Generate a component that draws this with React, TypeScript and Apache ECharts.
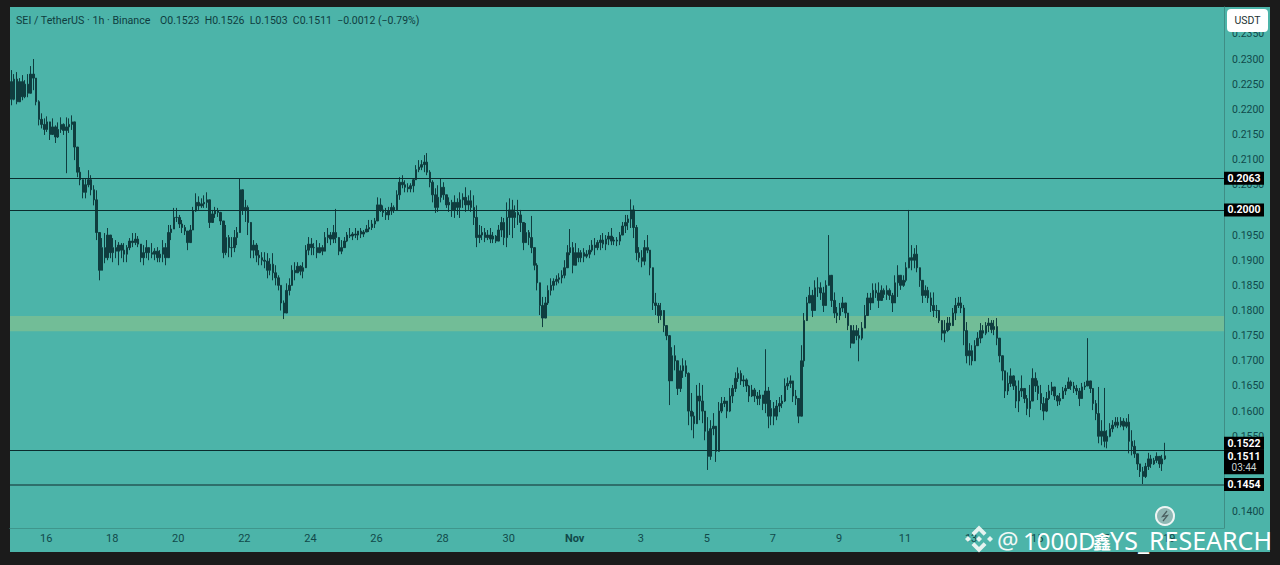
import React, { useEffect, useRef } from "react";
import * as echarts from "echarts";

const highs = [
  2278,2270,2274,2262,2268,2258,2270,2286,2300,2258,
  2218,2192,2182,2186,2172,2182,2168,2174,2184,2172,
  2184,2182,2188,2168,2119,2085,2059,2063,2079,2069,
  2049,2039,1950,1944,1954,1964,1940,1944,1940,1936,
  1934,1934,1930,1944,1954,1954,1948,1930,1930,1940,
  1926,1934,1924,1926,1920,1940,1934,1970,1970,2004,
  2004,1990,1980,1970,1954,1970,2006,2033,2027,2023,
  2029,2035,2004,2000,2006,2004,1996,1966,1970,1950,
  1946,1960,1966,2063,2029,2020,2009,1970,1940,1934,
  1920,1916,1916,1914,1904,1914,1890,1870,1850,1820,
  1854,1864,1890,1896,1896,1890,1896,1930,1946,1944,
  1934,1940,1934,1930,1956,1964,1956,1970,2002,1940,
  1940,1946,1956,1964,1956,1964,1956,1964,1960,1970,
  1980,1980,1984,2025,2023,2009,2004,2006,2014,2009,
  2039,2065,2069,2059,2053,2053,2063,2089,2099,2099,
  2109,2113,2079,2059,2043,2049,2063,2055,2029,2025,
  2020,2029,2023,2035,2033,2045,2029,2039,2029,2009,
  1970,1968,1964,1960,1964,1956,1950,1970,1986,1984,
  2015,2023,2020,2009,2020,2000,1974,1974,1960,1988,
  1920,1894,1850,1827,1827,1850,1864,1864,1870,1874,
  1880,1900,1930,1962,1936,1934,1924,1920,1924,1920,
  1930,1940,1944,1940,1950,1954,1950,1956,1964,1946,
  1946,1956,1976,1990,1990,2021,2009,1970,1926,1920,
  1940,1950,1910,1874,1835,1815,1815,1795,1771,1751,
  1727,1731,1695,1691,1705,1701,1677,1636,1598,1652,
  1656,1652,1598,1588,1582,1596,1568,1618,1628,1628,
  1612,1646,1652,1677,1687,1681,1671,1665,1652,1652,
  1646,1638,1642,1632,1723,1648,1622,1618,1622,1628,
  1632,1665,1667,1671,1658,1642,1622,1731,1795,1827,
  1847,1841,1860,1866,1856,1847,1860,1950,1860,1836,
  1807,1815,1827,1807,1787,1751,1771,1771,1765,1777,
  1811,1835,1835,1854,1854,1856,1850,1844,1850,1844,
  1835,1870,1890,1870,1870,1896,2000,1930,1924,1930,
  1880,1847,1850,1847,1836,1836,1811,1795,1775,1781,
  1787,1787,1805,1825,1827,1827,1811,1777,1735,1731,
  1741,1757,1775,1771,1777,1785,1781,1781,1785,1731,
  1701,1677,1677,1685,1671,1661,1661,1671,1636,1632,
  1652,1685,1677,1661,1652,1628,1638,1652,1658,1646,
  1632,1636,1648,1652,1667,1661,1658,1652,1646,1656,
  1658,1745,1658,1636,1622,1648,1582,1646,1562,1576,
  1582,1588,1588,1588,1586,1586,1594,1562,1542,1507,
  1493,1489,1497,1517,1513,1507,1518,1509,1513,1537,
];

const lows = [
  2208,2218,2210,2226,2218,2222,2224,2234,2238,2208,
  2168,2162,2149,2155,2139,2149,2133,2143,2153,2149,
  2073,2153,2159,2099,2065,2049,2023,2023,2045,2029,
  2009,1940,1860,1880,1894,1900,1904,1896,1904,1890,
  1904,1896,1896,1920,1926,1930,1926,1896,1890,1904,
  1900,1904,1900,1896,1896,1896,1890,1926,1940,1970,
  1976,1964,1954,1950,1920,1940,1964,1996,2000,2004,
  2004,2004,1964,1976,1984,1986,1970,1904,1910,1906,
  1906,1916,1930,1986,1990,1976,1950,1904,1904,1896,
  1890,1890,1884,1864,1870,1860,1850,1840,1800,1783,
  1815,1830,1854,1860,1876,1870,1864,1896,1910,1910,
  1910,1904,1914,1910,1920,1934,1930,1934,1934,1910,
  1912,1926,1936,1944,1940,1944,1940,1944,1946,1956,
  1956,1960,1964,1984,1996,1986,1980,1980,1990,1994,
  2006,2020,2043,2035,2035,2035,2035,2065,2075,2079,
  2075,2069,2045,2015,1994,1996,2015,2020,2004,1996,
  1986,1984,1990,1984,2004,1996,2000,1996,1970,1926,
  1934,1940,1936,1940,1934,1934,1934,1944,1946,1930,
  1926,1950,1944,1964,1970,1956,1920,1944,1930,1914,
  1880,1840,1791,1767,1801,1811,1830,1840,1850,1854,
  1854,1864,1890,1910,1874,1890,1896,1896,1896,1904,
  1904,1916,1910,1920,1920,1924,1920,1930,1930,1930,
  1928,1930,1950,1954,1960,1964,1944,1900,1896,1886,
  1890,1914,1870,1801,1791,1775,1781,1757,1741,1612,
  1685,1681,1632,1638,1666,1668,1572,1562,1546,1588,
  1582,1576,1542,1483,1503,1552,1499,1562,1596,1608,
  1586,1598,1616,1638,1658,1652,1648,1638,1618,1628,
  1618,1612,1612,1602,1596,1566,1572,1572,1582,1598,
  1606,1618,1642,1646,1618,1612,1576,1632,1688,1791,
  1815,1787,1821,1827,1821,1797,1827,1854,1807,1785,
  1775,1781,1797,1785,1761,1725,1735,1741,1699,1741,
  1765,1797,1801,1817,1825,1805,1821,1825,1821,1821,
  1797,1836,1827,1841,1847,1856,1884,1880,1884,1876,
  1847,1815,1825,1815,1797,1787,1785,1775,1741,1737,
  1757,1761,1777,1781,1805,1795,1731,1695,1691,1691,
  1717,1731,1735,1745,1751,1757,1755,1751,1731,1697,
  1661,1626,1632,1648,1642,1606,1598,1628,1616,1592,
  1588,1628,1638,1622,1602,1582,1598,1622,1632,1622,
  1610,1612,1628,1632,1646,1642,1636,1632,1610,1632,
  1642,1652,1636,1602,1582,1536,1532,1528,1526,1548,
  1558,1568,1566,1568,1562,1566,1516,1512,1507,1483,
  1469,1453,1467,1483,1487,1493,1497,1487,1481,1503,
];

const closes = [
  2220,2260,2215,2255,2225,2250,2232,2270,2262,2215,
  2180,2170,2160,2175,2150,2165,2145,2160,2170,2158,
  2165,2170,2175,2125,2075,2060,2035,2050,2060,2040,
  2020,1955,1880,1925,1905,1950,1915,1925,1918,1930,
  1920,1912,1925,1938,1935,1942,1932,1905,1915,1925,
  1915,1912,1918,1905,1912,1925,1905,1955,1962,1985,
  1985,1972,1965,1958,1935,1960,1998,2015,2008,2012,
  2015,2020,1975,1992,1998,1995,1978,1915,1945,1925,
  1925,1945,1955,2040,2000,2005,1975,1920,1930,1910,
  1905,1900,1898,1880,1892,1875,1865,1850,1815,1795,
  1840,1850,1880,1875,1888,1878,1885,1920,1932,1925,
  1925,1915,1925,1918,1945,1950,1942,1955,1945,1918,
  1925,1938,1950,1948,1952,1950,1958,1952,1956,1962,
  1965,1972,1978,2010,2000,1995,1990,1998,2005,2000,
  2030,2055,2050,2045,2042,2048,2060,2080,2085,2090,
  2095,2075,2055,2030,2005,2025,2045,2030,2010,2015,
  2000,2015,2005,2020,2025,2010,2018,2005,1985,1945,
  1950,1955,1945,1950,1942,1948,1938,1960,1975,1945,
  1985,2000,1985,1995,1990,1975,1935,1955,1945,1925,
  1890,1855,1810,1785,1815,1840,1850,1858,1862,1865,
  1870,1885,1915,1925,1890,1915,1905,1915,1908,1912,
  1920,1930,1925,1935,1940,1932,1942,1948,1938,1940,
  1938,1950,1968,1975,1982,2000,1965,1915,1905,1898,
  1925,1920,1885,1815,1810,1790,1800,1770,1750,1660,
  1710,1700,1645,1680,1690,1675,1600,1590,1575,1630,
  1620,1600,1560,1510,1565,1570,1520,1600,1615,1620,
  1600,1630,1645,1665,1675,1660,1662,1650,1630,1642,
  1630,1625,1632,1615,1640,1590,1605,1590,1610,1615,
  1620,1650,1655,1660,1630,1625,1590,1700,1780,1815,
  1830,1800,1845,1845,1835,1810,1850,1870,1820,1795,
  1790,1805,1815,1795,1770,1735,1760,1750,1745,1765,
  1790,1825,1815,1840,1835,1820,1840,1832,1840,1830,
  1815,1855,1870,1850,1860,1885,1905,1900,1912,1885,
  1860,1830,1840,1825,1810,1800,1800,1780,1755,1760,
  1775,1770,1795,1810,1815,1805,1760,1710,1720,1700,
  1730,1745,1760,1755,1770,1775,1762,1768,1745,1710,
  1680,1640,1655,1670,1650,1620,1640,1645,1625,1605,
  1620,1665,1650,1635,1615,1600,1625,1640,1648,1630,
  1620,1625,1640,1645,1658,1650,1645,1640,1625,1648,
  1650,1660,1645,1615,1595,1550,1560,1540,1550,1565,
  1572,1578,1572,1580,1570,1578,1540,1530,1515,1495,
  1480,1470,1490,1505,1495,1502,1510,1495,1505,1511,
];

const priceTicks = [0.14,0.145,0.15,0.155,0.16,0.165,0.17,0.175,0.18,0.185,0.19,0.195,0.2,0.205,0.21,0.215,0.22,0.225,0.23,0.235];
const dayTicks: Record<string, string> = {
  "10-16 00": "16", "10-18 00": "18", "10-20 00": "20", "10-22 00": "22", "10-24 00": "24",
  "10-26 00": "26", "10-28 00": "28", "10-30 00": "30", "11-01 00": "Nov", "11-03 00": "3",
  "11-05 00": "5", "11-07 00": "7", "11-09 00": "9", "11-11 00": "11", "11-13 00": "13",
  "11-15 00": "15", "11-17 00": "17", "11-19 00": "19",
};
const levelLines = [0.2063, 0.2, 0.1522];
const supportLine = 0.1454;
const lastPrice = 0.1511;
const countdown = "03:44";
const zoneLow = 0.1759;
const zoneHigh = 0.1789;
const headerSymbol = "SEI / TetherUS · 1h · Binance";
const headerValues = "O0.1523  H0.1526  L0.1503  C0.1511  −0.0012 (−0.79%)";

const TEAL = "#4cb4a9";
const INK = "#0f3d3f";
const AXIS_INK = "#11494a";
const FONT = "Roboto, 'Noto Sans', sans-serif";

const two = (n: number) => String(n).padStart(2, "0");
const categories: string[] = Array.from({ length: 441 }, (_, i) => {
  const d = new Date(Date.UTC(2024, 9, 14, 22 + 2 * i));
  return `${two(d.getUTCMonth() + 1)}-${two(d.getUTCDate())} ${two(d.getUTCHours())}`;
});
const candles = closes.map((c, i) => [
  (i === 0 ? 2255 : closes[i - 1]) / 10000,
  c / 10000,
  lows[i] / 10000,
  highs[i] / 10000,
]);

const tagLabel = (extra: any = {}) => ({
  show: true,
  position: "end",
  distance: 0,
  color: "#fff",
  backgroundColor: "#000",
  fontFamily: FONT,
  fontSize: 10.5,
  fontWeight: "bold",
  width: 32,
  align: "center",
  padding: [1, 4],
  opacity: 1,
  ...extra,
});

export default function App() {
  const ref = useRef<HTMLDivElement>(null);
  useEffect(() => {
    document.body.style.margin = "0";
    document.body.style.background = "#1b1b1b";
    const chart = echarts.init(ref.current!, undefined, { renderer: "svg" });
    chart.setOption({
      animation: false,
      backgroundColor: "transparent",
      grid: { left: 10, top: 7, width: 1214, height: 521, containLabel: false },
      xAxis: {
        type: "category",
        data: categories,
        boundaryGap: true,
        axisLine: { show: true, onZero: false, lineStyle: { color: "#3f968c", width: 1 } },
        axisTick: { show: false },
        splitLine: { show: false },
        axisLabel: {
          interval: (_: number, v: string) => v in dayTicks,
          formatter: (v: string) => (dayTicks[v] === "Nov" ? "{b|Nov}" : dayTicks[v] ?? ""),
          color: AXIS_INK,
          fontFamily: FONT,
          fontSize: 11,
          margin: 5,
          padding: [0, 2, 0, 0],
          rich: { b: { fontWeight: "bold", fontSize: 11, color: AXIS_INK, fontFamily: FONT } },
        },
      },
      yAxis: {
        type: "value",
        position: "right",
        min: 0.13676,
        max: 0.24034,
        axisLine: { show: true, onZero: false, lineStyle: { color: "#3f8d85", width: 1 } },
        axisTick: { show: false },
        splitLine: { show: false },
        axisLabel: {
          customValues: priceTicks,
          formatter: (v: number) => v.toFixed(4),
          color: AXIS_INK,
          fontFamily: FONT,
          fontSize: 10.5,
          margin: 8,
        },
      },
      series: [
        {
          type: "candlestick",
          data: candles,
          clip: false,
          barWidth: 2,
          silent: true,
          itemStyle: { color: INK, color0: INK, borderColor: INK, borderColor0: INK, borderWidth: 1 },
          markArea: {
            silent: true,
            itemStyle: { color: "#72bd97" },
            data: [[{ yAxis: zoneHigh, x: 10 }, { yAxis: zoneLow, x: 1224 }]],
          },
          markLine: {
            silent: true,
            symbol: "none",
            animation: false,
            precision: 4,
            data: [
              {
                yAxis: lastPrice,
                lineStyle: { color: "rgba(0,0,0,0)", width: 1, opacity: 1, type: "solid" },
                label: tagLabel({
                  formatter: `${lastPrice.toFixed(4)}\n{c|${countdown}}`,
                  offset: [20, 6],
                  lineHeight: 12,
                  rich: { c: { color: "#c8d2d0", fontSize: 10, fontWeight: "normal", fontFamily: FONT, lineHeight: 11 } },
                }),
              },
              ...levelLines.map((v, i) => ({
                yAxis: v,
                lineStyle: { color: "#0b2c2e", width: 1, type: "solid" },
                label: tagLabel({
                  formatter: v.toFixed(4),
                  offset: i === 2 ? [20, -7] : [20, 0],
                }),
              })),
              {
                yAxis: supportLine,
                lineStyle: { color: "#2e6f6b", width: 2, type: "solid" },
                label: tagLabel({ formatter: supportLine.toFixed(4), offset: [20, 0] }),
              },
            ],
          },
        },
      ],
      graphic: [
        { type: "rect", z: -10, silent: true, shape: { x: 10, y: 7, width: 1260, height: 545 }, style: { fill: TEAL } },
        { type: "text", z: 50, silent: true, x: 16, y: 20, style: { text: headerSymbol, fill: INK, font: `10.7px ${FONT}`, textVerticalAlign: "middle", textAlign: "left" } },
        { type: "text", z: 50, silent: true, x: 160, y: 20, style: { text: headerValues, fill: INK, font: `10.5px ${FONT}`, textVerticalAlign: "middle", textAlign: "left" } },
        { type: "rect", z: 50, silent: true, shape: { x: 1227, y: 9, width: 41, height: 23, r: 4 }, style: { fill: "#ffffff" } },
        { type: "text", z: 51, silent: true, x: 1247.5, y: 20.5, style: { text: "USDT", fill: "#233", font: `10.5px ${FONT}`, textAlign: "center", textVerticalAlign: "middle" } },
        { type: "circle", z: 50, silent: true, shape: { cx: 1165, cy: 516, r: 9 }, style: { fill: "#8fb8b4", stroke: "#eef5f4", lineWidth: 2 } },
        { type: "polyline", z: 51, silent: true, shape: { points: [[1167, 511], [1162.5, 516.5], [1167.5, 515.5], [1163, 521]] }, style: { stroke: "#4a5f5f", lineWidth: 1.2, fill: "none" } },
        {
          type: "group", z: 60, silent: true, x: 979, y: 539,
          children: [
            { type: "polygon", z: 60, shape: { points: [[0, -3], [3, 0], [0, 3], [-3, 0]] }, style: { fill: "#e6f3f0" } },
            { type: "polygon", z: 60, shape: { points: [[-11, -3], [-8, 0], [-11, 3], [-14, 0]] }, style: { fill: "#e6f3f0" } },
            { type: "polygon", z: 60, shape: { points: [[11, -3], [14, 0], [11, 3], [8, 0]] }, style: { fill: "#e6f3f0" } },
            { type: "polygon", z: 60, shape: { points: [[0, -13.5], [7.5, -6], [4.7, -3.2], [0, -8], [-4.7, -3.2], [-7.5, -6]] }, style: { fill: "#e6f3f0" } },
            { type: "polygon", z: 60, shape: { points: [[0, 13.5], [7.5, 6], [4.7, 3.2], [0, 8], [-4.7, 3.2], [-7.5, 6]] }, style: { fill: "#e6f3f0" } },
          ],
        },
        { type: "text", z: 60, silent: true, x: 997, y: 539, style: { text: "@", fill: "#f1f8f6", font: `24px 'Noto Sans', sans-serif`, textVerticalAlign: "middle" } },
        { type: "text", z: 60, silent: true, x: 1023, y: 540, style: { text: "1000D", fill: "#ffffff", font: `24px 'Noto Sans', sans-serif`, textVerticalAlign: "middle" } },
        { type: "text", z: 60, silent: true, x: 1093, y: 541, style: { text: "鑫", fill: "#ffffff", font: `bold 18px 'Noto Sans CJK SC', sans-serif`, textVerticalAlign: "middle" } },
        { type: "text", z: 60, silent: true, x: 1110, y: 540, style: { text: "YS_RESEARCH", fill: "#ffffff", font: `25px 'Noto Sans', sans-serif`, textVerticalAlign: "middle" } },
      ],
    });
    return () => chart.dispose();
  }, []);
  return <div ref={ref} style={{ width: 1280, height: 565, background: "#1b1b1b" }} />;
}
